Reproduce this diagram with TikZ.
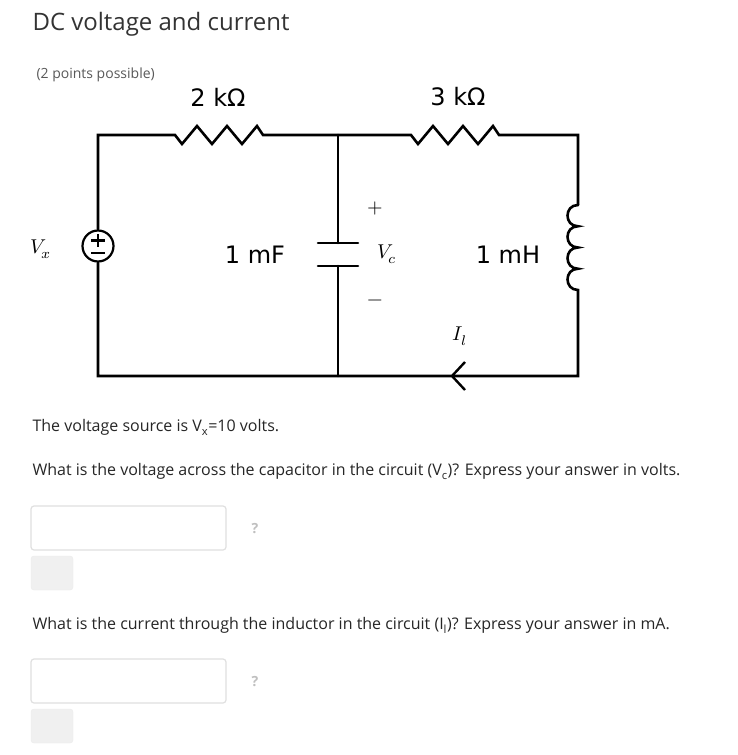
\documentclass[tikz,border=0pt]{standalone}
\usepackage{fontspec}
\setmainfont{Open Sans}
\newfontfamily\dv{DejaVu Sans}
\usepackage{unicode-math}
\setmathfont{Latin Modern Math}
\begin{document}
\begin{tikzpicture}[x=1pt,y=-1pt,
  wire/.style={line width=2.6pt,line cap=round,line join=miter},
  body/.style={anchor=west,font=\fontsize{16}{19}\selectfont,text=black!85},
  lab/.style={font=\dv\fontsize{24}{28}\selectfont},
  mth/.style={scale=2},
  inbox/.style={draw=black!12,line width=1.2pt,rounded corners=3pt},
  btn/.style={draw=black!8,fill=black!6,rounded corners=3pt},
  qm/.style={font=\bfseries\fontsize{14}{16}\selectfont,text=black!25}]
\path[use as bounding box,fill=white] (0,0) rectangle (737,755);
\node[anchor=west,font=\fontsize{24}{29}\selectfont,text=black!80] (title) at (29,24) {DC voltage and current};
\node[anchor=west,font=\fontsize{14}{17}\selectfont,text=black!65] (pts) at (33,75) {(2 points possible)};
% circuit
\coordinate (tl) at (98,135); \coordinate (tm) at (338,135); \coordinate (tr) at (578,135);
\coordinate (bl) at (98,376); \coordinate (bm) at (338,376); \coordinate (br) at (578,376);
\node[draw,circle,line width=2.2pt,minimum size=31pt,inner sep=0] (src) at (98,246) {};
\draw[wire] (src.north) -- (tl) -- (175,135) -- (182,144) -- (197,126) -- (212,144) -- (227,126) -- (242,144) -- (257,126) -- (263,135) -- (tm)
  -- (411,135) -- (418,144) -- (433,126) -- (448,144) -- (463,126) -- (478,144) -- (493,126) -- (499,135) -- (tr) -- (578,205);
\draw[wire] (578,205) .. controls (564,205) and (564,226.25) .. (578,226.25)
  .. controls (564,226.25) and (564,247.5) .. (578,247.5)
  .. controls (564,247.5) and (564,268.75) .. (578,268.75)
  .. controls (564,268.75) and (564,290) .. (578,290) -- (br) -- (bl) -- (src.south);
\draw[wire] (tm) -- (338,243); \draw[wire] (318,243) -- (358,243);
\draw[wire] (318,266) -- (358,266); \draw[wire] (338,266) -- (bm);
\draw[line width=2.6pt] (src.center)++(0,-12) -- ++(0,13) (src.center)++(-7,-5.5) -- ++(14,0);
\draw[line width=2.6pt] (src.center)++(-7,7) -- ++(14,0);
\coordinate (ar) at (452,376);
\draw[line width=2.4pt] (465,362) -- (ar) -- (465,390);
\node[lab] (r1) at (218,97) {2 kΩ};
\node[lab] (r2) at (458,97) {3 kΩ};
\node[lab] (c1) at (255,255) {1 mF};
\node[lab] (l1) at (508,255) {1 mH};
\node[mth] (vx) at (41,249) {$V_x$};
\node[mth] (vc) at (387,254) {$V_c$};
\node[mth] (vp) at (375,208) {$+$};
\node[mth] (vm) at (375,303) {$-$};
\node[mth] (il) at (460,336) {$I_l$};
% text
\node[body] (t1) at (29,427) {The voltage source is V\textsubscript{x}=10 volts.};
\node[body] (t2) at (29,471) {What is the voltage across the capacitor in the circuit (V\textsubscript{c})? Express your answer in volts.};
\draw[inbox] (31,506) rectangle (226,550);
\draw[btn] (31,556) rectangle (73,590);
\node[qm] (q1) at (255,529) {?};
\node[body] (t3) at (29,625) {What is the current through the inductor in the circuit (I\textsubscript{l})? Express your answer in mA.};
\draw[inbox] (31,659) rectangle (226,703);
\draw[btn] (31,709) rectangle (73,743);
\node[qm] (q2) at (255,682) {?};
\end{tikzpicture}
\end{document}
